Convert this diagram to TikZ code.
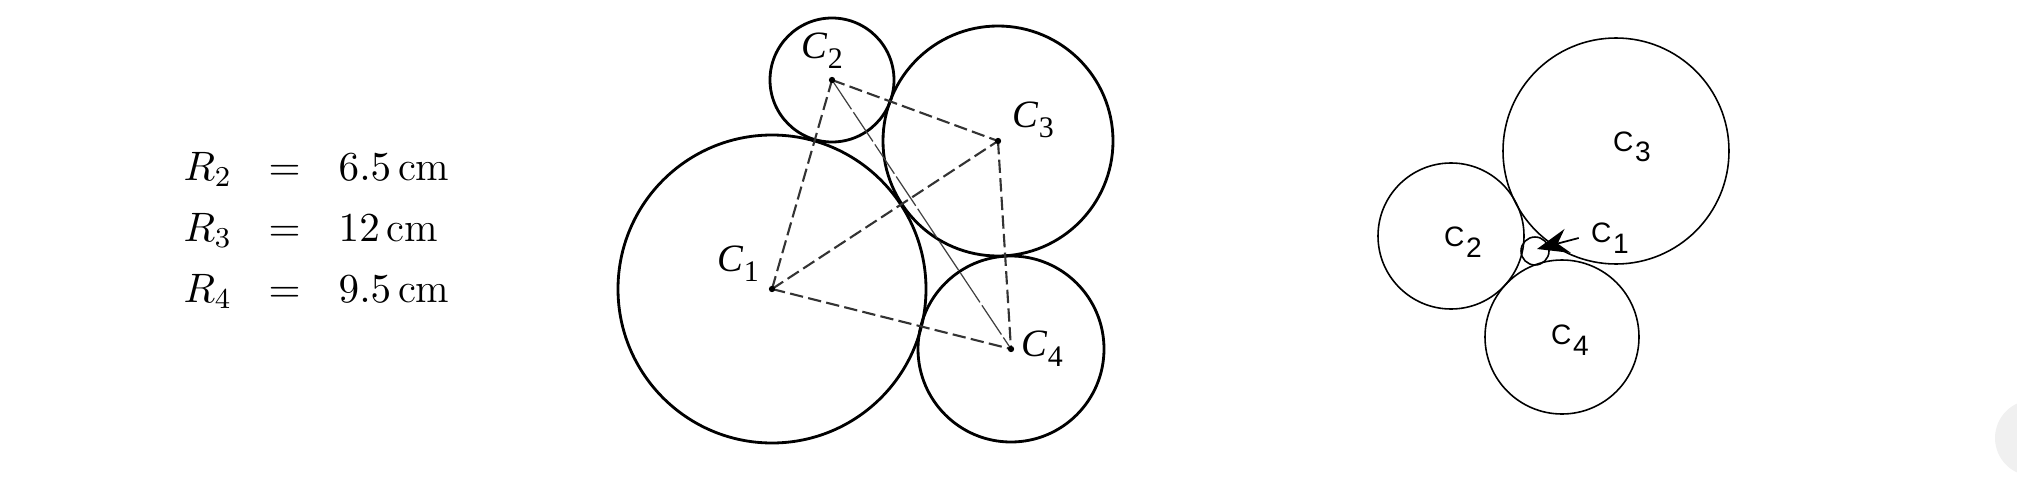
\documentclass[tikz,border=0pt]{standalone}
\usepackage{amsmath}
\usepackage{fix-cm}
\usepackage{fontspec}
\usepackage{tikz}
\usetikzlibrary{arrows.meta}

\newfontfamily\labelfont{Liberation Sans}
\newfontfamily\seriflabel{Liberation Serif}
\newcommand{\sanslabel}[1]{{\labelfont C\kern0.5pt\raisebox{-0.7ex}{#1}}}
\newcommand{\seriflab}[1]{{\seriflabel\itshape C\kern0.3pt\raisebox{-0.55ex}{\upshape\fontsize{8.5}{10}\selectfont #1}}}

\tikzset{
    disc/.style={circle, draw, line width=0.8pt, inner sep=0pt, outer sep=0pt, minimum size=#1},
    thindisc/.style={circle, draw, line width=0.45pt, inner sep=0pt, outer sep=0pt, minimum size=#1},
    centerline/.style={black!80, line width=0.6pt, dash pattern=on 3.8pt off 1.5pt},
    crossline/.style={black!75, line width=0.35pt, dash pattern=on 10pt off 1pt}
}

\begin{document}
\begin{tikzpicture}
    \useasboundingbox (0,0) rectangle (20.17,4.93);

    % Radii on the left
    \foreach \i/\y/\val in {2/3.13/6.5, 3/2.52/12, 4/1.91/9.5} {
        \node[anchor=base west, inner sep=0pt, font=\fontsize{11.7}{14}\selectfont] (rad\i) at (1.83,\y) {$R_\i$};
        \node[anchor=base west, inner sep=0pt, font=\fontsize{11.7}{14}\selectfont] (eq\i) at (2.68,\y) {$=$};
        \node[anchor=base west, inner sep=0pt, font=\fontsize{11.7}{14}\selectfont] (val\i) at (3.38,\y) {$\val\,\mathrm{cm}$};
    }

    % Draw the four touching circles
    \foreach \n/\x/\y/\d in {1/7.72/2.04/3.08, 2/8.32/4.13/1.24, 3/9.98/3.52/2.30, 4/10.11/1.44/1.86} {
        \node[disc=\d cm] (m\n) at (\x,\y) {};
    }

    % Dashed lines between the centres
    \foreach \a/\b in {1/2, 1/3, 1/4, 2/3, 3/4} {
        \draw[centerline] (m\a.center) -- (m\b.center);
    }
    \draw[crossline] (m2.center) -- (m4.center);

    % Centre points
    \foreach \n in {1,2,3,4} {
        \fill (m\n.center) circle (0.9pt);
    }

    % Labels of the centres
    \node[font=\fontsize{11}{13}\selectfont] (lm1) at (7.38,2.29) {\seriflab{1}};
    \node[font=\fontsize{11}{13}\selectfont] (lm2) at (8.22,4.42) {\seriflab{2}};
    \node[font=\fontsize{11}{13}\selectfont] (lm3) at (10.33,3.73) {\seriflab{3}};
    \node[font=\fontsize{11}{13}\selectfont] (lm4) at (10.42,1.44) {\seriflab{4}};

    % Second picture with the small circle
    \node[thindisc=2.26cm] (r3) at (16.16,3.42) {};
    \node[thindisc=1.46cm] (r2) at (14.51,2.57) {};
    \node[thindisc=1.54cm] (r4) at (15.62,1.56) {};
    \node[thindisc=0.28cm] (r1) at (15.35,2.42) {};

    \node[font=\fontsize{8}{10}\selectfont] (lr3) at (16.32,3.46) {\sanslabel{3}};
    \node[font=\fontsize{8}{10}\selectfont] (lr2) at (14.63,2.51) {\sanslabel{2}};
    \node[font=\fontsize{8}{10}\selectfont] (lr1) at (16.10,2.55) {\sanslabel{1}};
    \node[font=\fontsize{8}{10}\selectfont] (lr4) at (15.70,1.53) {\sanslabel{4}};

    % Arrow to the small circle
    \coordinate (tip) at (15.37,2.44);
    \draw[line width=0.5pt, -{Stealth[length=9pt,width=7pt]}] (lr1.west) -- (tip);

    % Faint mark in the corner
    \fill[black!6] (20.33,0.55) circle (0.38);
\end{tikzpicture}
\end{document}
